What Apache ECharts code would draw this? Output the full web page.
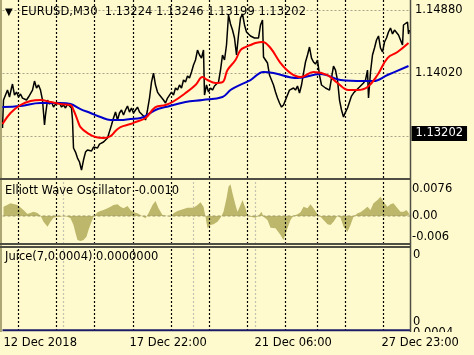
<!DOCTYPE html>
<html><head><meta charset="utf-8">
<script src="https://cdn.jsdelivr.net/npm/echarts@6/dist/echarts.min.js"></script>
<style>html,body{margin:0;padding:0;background:#FFFACD}#c{width:474px;height:355px;background:#FFFACD}</style>
</head><body><div id="c"></div>
<script>
// ---- data (bar index = position in the M30 bar sequence, value = price / oscillator) ----
const priceBar = [
0,1,3,5,7,9,10,12,14,16,
18,20,22,24,26,28,30,32,34,36,
38,40,42,43,45,47,49,51,53,55,
57,59,61,63,65,67,69,70,71,73,
75,77,79,81,83,85,87,89,91,93,
95,97,99,101,103,105,107,109,111,113,
115,117,119,121,123,125,127,129,131,133,
135,137,139,141,143,145,147,149,151,153,
155,157,159,161,163,165,167,169,171,173,
175,177,179,181,183,185,187,189,191,193,
195,197,199,201,202,204,206,208,210,212,
214,216,218,220,222,224,226,228,230,232,
234,236,238,240,242,244,246,248,250,252,
254,256,258,260,261,263,265,267,269,271,
273,275,277,279,281,283,285,287,289,291,
293,295,297,299,301,303,305,307,309,311,
313,315,317,319,321,323,325,327,329,331,
333,335,337,339,341,343,345,347,349,351,
353,355,357,359,361,363,365,366,368,370,
372,374,376,378,380,382,384,386,388,390,
392,394,396,398,400,401,403,405,406,407];
const priceClose = [
1.13276,1.13658,1.13726,1.13794,1.13699,1.13822,1.13876,1.13726,1.13767,1.13699,
1.13740,1.13685,1.13712,1.13658,1.13699,1.13672,1.13794,1.13917,1.13822,1.13863,
1.13794,1.13658,1.13317,1.13454,1.13658,1.13603,1.13631,1.13562,1.13603,1.13576,
1.13617,1.13562,1.13590,1.13549,1.13603,1.13576,1.13549,1.13385,1.13003,1.12948,
1.12866,1.12812,1.12702,1.12839,1.12948,1.12976,1.13003,1.12962,1.13016,1.13030,
1.13003,1.13057,1.13044,1.13085,1.13071,1.13139,1.13166,1.13317,1.13412,1.13494,
1.13385,1.13481,1.13522,1.13454,1.13522,1.13576,1.13494,1.13549,1.13481,1.13522,
1.13562,1.13494,1.13467,1.13440,1.13385,1.13522,1.13685,1.13903,1.14026,1.13863,
1.13767,1.13726,1.13699,1.13658,1.13617,1.13685,1.13658,1.13767,1.13726,1.13822,
1.13794,1.13863,1.13822,1.13931,1.13903,1.13986,1.13958,1.14040,1.14136,1.14204,
1.14340,1.14272,1.14231,1.14340,1.13726,1.13863,1.13767,1.13822,1.13794,1.13849,
1.13822,1.13903,1.14067,1.14272,1.14204,1.14409,1.14818,1.14695,1.14613,1.14504,
1.14272,1.14545,1.14777,1.14832,1.14682,1.14586,1.14613,1.14532,1.14559,1.14504,
1.14477,1.14504,1.14682,1.14750,1.14245,1.14204,1.14163,1.13999,1.13931,1.13863,
1.13767,1.13685,1.13617,1.13562,1.13590,1.13658,1.13726,1.13794,1.13767,1.13822,
1.13794,1.13849,1.13753,1.13863,1.14026,1.14177,1.14272,1.14381,1.14231,1.14177,
1.14149,1.14204,1.13999,1.13863,1.13890,1.13822,1.13849,1.13794,1.13958,1.14122,
1.14067,1.13931,1.13658,1.13522,1.13426,1.13494,1.13549,1.13631,1.13712,1.13753,
1.13781,1.13767,1.13835,1.13822,1.13890,1.13931,1.14067,1.13685,1.14040,1.14272,
1.14368,1.14477,1.14532,1.14368,1.14313,1.14450,1.14504,1.14586,1.14641,1.14559,
1.14613,1.14586,1.14545,1.14559,1.14409,1.14682,1.14695,1.14723,1.14559,1.14613];

const fastMaBar = [0,8,18,28,38,48,58,68,71,75,78,85,93,101,108,113,118,128,133,143,
153,163,170,183,193,200,205,213,220,225,233,238,243,248,253,260,268,278,288,298,
311,325,335,346,355,365,375,385,395,406];
const fastMaVal = [1.13330,1.13481,1.13590,1.13644,1.13658,1.13631,1.13603,1.13590,1.13522,1.13385,
1.13289,1.13207,1.13153,1.13139,1.13166,1.13235,1.13289,1.13330,1.13358,1.13412,
1.13562,1.13590,1.13631,1.13753,1.13863,1.13972,1.13931,1.13890,1.13903,1.14067,
1.14204,1.14340,1.14381,1.14409,1.14436,1.14450,1.14368,1.14163,1.14026,1.13972,
1.14040,1.13999,1.13890,1.13794,1.13794,1.13835,1.13999,1.14231,1.14313,1.14436];

const slowMaBar = [0,18,38,58,68,78,88,98,108,118,128,138,153,163,183,200,220,228,233,248,
261,271,295,318,338,361,371,385,406];
const slowMaVal = [1.13562,1.13576,1.13617,1.13617,1.13603,1.13535,1.13481,1.13426,1.13385,1.13385,
1.13399,1.13412,1.13522,1.13562,1.13631,1.13658,1.13699,1.13794,1.13835,1.13931,
1.14040,1.14026,1.13958,1.14013,1.13931,1.13917,1.13917,1.13999,1.14122];

const oscBar = [1,8,15,21,25,31,35,38,41,45, 48,51,55,58,61,65,68,71,73,75,
78,81,84,86,89,91,95,98,101,105, 108,111,115,118,121,125,128,131,135,138,
143,146,150,153,156,160,165,168,171,175, 178,185,191,195,198,201,203,205,208,211,
215,218,221,224,226,228,230,233,235,238, 240,243,245,248,253,256,259,261,265,268,
273,278,281,285,288,291,295,298,301,305, 308,311,315,318,321,325,328,331,335,338,
341,345,348,351,355,358,361,365,368,371, 375,378,381,385,388,391,395,398,401,404, 407];
const oscVal = [0.00262,0.00357,0.00310,0.00169,0.00056,0.00121,0.00084,0.00008,-0.00160,-0.00301,
-0.00160,-0.00048,-0.00020,-0.00020,0.00008,-0.00020,-0.00065,-0.00253,-0.00478,-0.00675,
-0.00704,-0.00675,-0.00583,-0.00394,-0.00160,-0.00020,0.00104,0.00141,0.00169,0.00217,
0.00262,0.00310,0.00329,0.00262,0.00217,0.00281,0.00169,0.00104,0.00076,0.00028,
-0.00065,0.00076,0.00310,0.00422,0.00217,0.00028,0,-0.00020,0.00076,0.00141,
0.00169,0.00234,0.00234,0.00310,0.00386,0.00262,-0.00020,-0.00346,-0.00253,-0.00234,
-0.00160,-0.00048,0.00121,0.00498,0.00825,0.00892,0.00639,0.00310,0.00121,0.00310,
0.00450,0.00217,0.00008,-0.00020,-0.00048,0.00008,0.00121,-0.00020,-0.00113,-0.00329,
-0.00346,-0.00535,-0.00675,-0.00346,-0.00113,0.00008,0.00048,0.00104,0.00262,0.00217,
0.00329,0.00217,0.00048,-0.00020,-0.00113,-0.00234,-0.00253,-0.00160,0.00008,-0.00048,
-0.00301,-0.00442,-0.00253,-0.00020,0.00076,0.00104,0.00169,0.00262,0.00169,0.00357,
0.00450,0.00543,0.00402,0.00262,0.00329,0.00357,0.00217,0.00121,0.00121,0.00169,
0.00048];

const juiceBar = [0, 408];
const juiceVal = [0, 0];

const timeTickBar = [1, 127, 252, 379];
const timeTickLabel = ['12 Dec 2018', '17 Dec 22:00', '21 Dec 06:00', '27 Dec 23:00'];
const gridBar = [16, 54, 92, 131, 169, 207, 245, 283, 315, 343, 381];
const sepBar = [61, 191, 253];
const priceTicks = [1.14880, 1.14020];
const priceGridLevels = [1.14880, 1.14020, 1.13160];
const lastPrice = 1.13202;
const oscTicks = [0.0076, 0, -0.006];
const oscTickLabel = ['0.0076', '0.00', '-0.006'];
const titleText = 'EURUSD,M30  1.13224 1.13246 1.13199 1.13202';
const oscTitle = 'Elliott Wave Oscillator -0.0010';
const juiceTitle = 'Juice(7,0.0004) 0.0000000';

// ---- chart ----
const FONT = 'DejaVu Sans';
const FS = 11.5;
const BG = '#FFFACD';
const PRICE_MIN = 1.12594, PRICE_MAX = 1.15023;
const OSC_MIN = -0.00788, OSC_MAX = 0.01013;
const JUICE_MIN = -0.000003, JUICE_MAX = 0.0004;
const zip = (a, b) => a.map((v, i) => [v, b[i]]);
const xBase = (gi) => ({type: 'value', gridIndex: gi, min: 0, max: 408, show: false});
// grid lines drawn as broken line series (a gap between each segment)
const vGrid = (gi, bars, lo, hi, color, z) => ({
  type: 'line', xAxisIndex: gi, yAxisIndex: gi, z: z, silent: true, showSymbol: false,
  connectNulls: false, lineStyle: {color: color, type: [2, 2], width: 1.2},
  data: bars.reduce((acc, b) => acc.concat([[b, lo], [b, hi], [b, '-']]), [])
});
const hGrid = (gi, levels, color, z) => ({
  type: 'line', xAxisIndex: gi, yAxisIndex: gi, z: z, silent: true, showSymbol: false,
  connectNulls: false, lineStyle: {color: color, type: [2, 2], width: 1.2},
  data: levels.reduce((acc, v) => acc.concat([[0, v], [408, v], ['-', v]]), [])
});
const G = {left: 2.5, right: 63.5};

const chart = echarts.init(document.getElementById('c'), null, {renderer: 'canvas'});

chart.setOption({
  animation: false,
  textStyle: {fontFamily: FONT},
  title: [
    {left: 5, top: 5, padding: 0, text: '{t|▼}' + titleText,
     textStyle: {fontFamily: FONT, fontSize: FS, fontWeight: 'normal', color: '#000', lineHeight: 14,
       rich: {t: {fontSize: 10, width: 16, lineHeight: 14, color: '#000', fontFamily: FONT}}}},
    {left: 5, top: 184, padding: 0, text: oscTitle,
     textStyle: {fontFamily: FONT, fontSize: FS, fontWeight: 'normal', color: '#000', lineHeight: 14}},
    {left: 5, top: 250, padding: 0, text: juiceTitle,
     textStyle: {fontFamily: FONT, fontSize: FS, fontWeight: 'normal', color: '#000', lineHeight: 14}}
  ],
  grid: [
    Object.assign({top: 0, height: 178}, G),
    Object.assign({top: 180, height: 64}, G),
    Object.assign({top: 247, height: 84}, G)
  ],
  xAxis: [
    xBase(0), xBase(1),
    {type: 'value', gridIndex: 2, min: 0, max: 408,
     axisLine: {show: false}, axisTick: {show: false}, splitLine: {show: false},
     axisLabel: {customValues: timeTickBar, formatter: v => timeTickLabel[timeTickBar.indexOf(v)],
       align: 'left', margin: 6, color: '#000', fontFamily: FONT, fontSize: FS}}
  ],
  yAxis: [
    {type: 'value', gridIndex: 0, position: 'right', min: PRICE_MIN, max: PRICE_MAX,
     axisLine: {show: false}, axisTick: {show: false}, splitLine: {show: false},
     axisLabel: {customValues: priceTicks, formatter: v => v.toFixed(5), margin: 4.5, color: '#000', fontFamily: FONT, fontSize: FS}},
    {type: 'value', gridIndex: 1, position: 'right', min: OSC_MIN, max: OSC_MAX,
     axisLine: {show: false}, axisTick: {show: false}, splitLine: {show: false},
     axisLabel: {customValues: oscTicks, formatter: v => oscTickLabel[oscTicks.indexOf(v)], margin: 1.5, color: '#000', fontFamily: FONT, fontSize: FS}},
    {type: 'value', gridIndex: 2, position: 'right', min: JUICE_MIN, max: JUICE_MAX, show: false}
  ],
  series: [
    hGrid(0, priceGridLevels, '#a9a58a', 1),
    vGrid(0, gridBar, PRICE_MIN, PRICE_MAX, '#000', 1),
    {type: 'line', name: 'EURUSD', xAxisIndex: 0, yAxisIndex: 0, data: zip(priceBar, priceClose), z: 2,
     showSymbol: false, lineStyle: {color: '#000', width: 1.5},
     markLine: {silent: true, symbol: ['none', 'none'], animation: false, precision: 5,
       data: [{yAxis: lastPrice, lineStyle: {color: 'rgba(0,0,0,0)', width: 1},
         label: {show: true, position: 'end', distance: 1, formatter: lastPrice.toFixed(5), color: '#fff',
           backgroundColor: '#000', padding: [2, 4, 1, 4], fontFamily: FONT, fontSize: FS}}]}},
    {type: 'line', name: 'MA slow', xAxisIndex: 0, yAxisIndex: 0, data: zip(slowMaBar, slowMaVal), z: 3,
     smooth: 0.4, showSymbol: false, lineStyle: {color: '#0000CD', width: 2}},
    {type: 'line', name: 'MA fast', xAxisIndex: 0, yAxisIndex: 0, data: zip(fastMaBar, fastMaVal), z: 4,
     smooth: 0.4, showSymbol: false, lineStyle: {color: '#FF0000', width: 2}},

    vGrid(1, sepBar, OSC_MIN, OSC_MAX, '#c4c2b0', 1),
    {type: 'line', name: 'Elliott Wave Oscillator', xAxisIndex: 1, yAxisIndex: 1, data: zip(oscBar, oscVal), z: 2,
     showSymbol: false, lineStyle: {width: 0, color: '#BDB76B'}, areaStyle: {color: '#BDB76B', opacity: 1}},
    vGrid(1, gridBar, OSC_MIN, OSC_MAX, '#000', 3),
    {type: 'line', xAxisIndex: 1, yAxisIndex: 1, z: 3, silent: true, showSymbol: false,
     lineStyle: {color: '#9c9765', type: [3, 2], width: 1}, data: [[0, 0], [408, 0]]},

    vGrid(2, sepBar, JUICE_MIN, JUICE_MAX, '#c4c2b0', 1),
    vGrid(2, gridBar, JUICE_MIN, JUICE_MAX, '#000', 1),
    {type: 'line', name: 'Juice', xAxisIndex: 2, yAxisIndex: 2, data: zip(juiceBar, juiceVal), z: 2,
     showSymbol: false, lineStyle: {color: '#1c1c66', width: 2}}
  ],
  graphic: [
    {type: 'rect', z: 100, shape: {x: 0, y: 0, width: 2, height: 332}, style: {fill: '#aba673'}},
    {type: 'line', z: 100, shape: {x1: 0, y1: 179, x2: 411, y2: 179}, style: {stroke: '#4e4e44', lineWidth: 2}},
    {type: 'line', z: 100, shape: {x1: 0, y1: 244, x2: 411, y2: 244}, style: {stroke: '#4e4e44', lineWidth: 2}},
    {type: 'line', z: 100, shape: {x1: 0, y1: 247, x2: 411, y2: 247}, style: {stroke: '#4e4e44', lineWidth: 2}},
    {type: 'line', z: 100, shape: {x1: 410.5, y1: 0, x2: 410.5, y2: 332}, style: {stroke: '#4e4e44', lineWidth: 1.5}},
    {type: 'text', z: 100, x: 413, y: 255, style: {text: '0', fill: '#000', fontFamily: FONT, fontSize: FS, verticalAlign: 'middle'}},
    {type: 'text', z: 100, x: 413, y: 322, style: {text: '0', fill: '#000', fontFamily: FONT, fontSize: FS, verticalAlign: 'middle'}},
    {type: 'text', z: 100, x: 413, y: 327, style: {text: '0.0004', fill: '#000', fontFamily: FONT, fontSize: FS, verticalAlign: 'top'}},
    {type: 'rect', z: 101, shape: {x: 411, y: 332, width: 63, height: 5}, style: {fill: BG}}
  ]
});
</script>
</body></html>
